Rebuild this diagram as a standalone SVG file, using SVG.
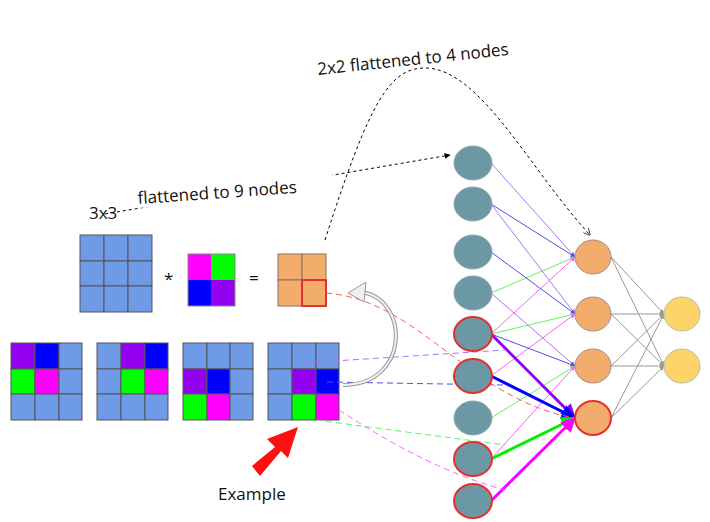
<svg xmlns="http://www.w3.org/2000/svg" width="710" height="522" viewBox="0 0 710 522">
<defs>
<style>
.b{fill:#6f9be6;stroke:#555;stroke-width:1}
.t{font-family:"Open Sans","Liberation Sans",Arial,sans-serif;font-size:17px;fill:#111}
.in{fill:#6b98a4;stroke:#8aa;stroke-width:1}
.inr{fill:#6b98a4;stroke:#e53030;stroke-width:2}
.hd{fill:#f2ac6b;stroke:#a88;stroke-width:1}
.ou{fill:#fcd468;stroke:#bba;stroke-width:1}
</style>
<marker id="a" viewBox="0 0 10 10" refX="9" refY="5" markerWidth="5" markerHeight="5" orient="auto"><path d="M0,0L10,5L0,10z" fill="context-stroke"/></marker>
<marker id="ab" viewBox="0 0 10 10" refX="9" refY="5" markerWidth="6" markerHeight="6" orient="auto"><path d="M0,0L10,5L0,10z" fill="#000"/></marker>
<marker id="ao" viewBox="0 0 10 10" refX="9" refY="5" markerWidth="7" markerHeight="7" orient="auto"><path d="M0,0L10,5L0,10" fill="none" stroke="#000"/></marker>
</defs>
<rect width="710" height="522" fill="#fff"/>
<g id="grid3x3">
<rect class="b" x="80" y="235" width="24" height="26"/><rect class="b" x="104" y="235" width="24" height="26"/><rect class="b" x="128" y="235" width="24" height="26"/>
<rect class="b" x="80" y="261" width="24" height="25"/><rect class="b" x="104" y="261" width="24" height="25"/><rect class="b" x="128" y="261" width="24" height="25"/>
<rect class="b" x="80" y="286" width="24" height="26"/><rect class="b" x="104" y="286" width="24" height="26"/><rect class="b" x="128" y="286" width="24" height="26"/>
</g>
<text class="t" x="164" y="285" font-size="14">*</text>
<g id="kernel">
<rect x="188" y="254" width="23" height="26" fill="#ff00ff"/><rect x="211" y="254" width="24" height="26" fill="#00ff00"/>
<rect x="188" y="280" width="23" height="26" fill="#0000ff"/><rect x="211" y="280" width="24" height="26" fill="#9400f0"/>
<rect x="188" y="254" width="47" height="52" fill="none" stroke="#888"/>
</g>
<text class="t" x="249" y="284" font-size="14">=</text>
<g id="result">
<rect x="278" y="254" width="24" height="26" fill="#f2ac6b" stroke="#8a7060"/><rect x="302" y="254" width="24" height="26" fill="#f2ac6b" stroke="#8a7060"/>
<rect x="278" y="280" width="24" height="26" fill="#f2ac6b" stroke="#8a7060"/><rect x="302" y="280" width="24" height="26" fill="#f2ac6b" stroke="#e53030" stroke-width="2"/>
</g>
<g id="examples">
<g id="ex1" transform="translate(11,343)">
<rect class="b" x="0" y="0" width="24" height="26" style="fill:#9400f0"/><rect class="b" x="24" y="0" width="24" height="26" style="fill:#0000ff"/><rect class="b" x="48" y="0" width="23" height="26"/>
<rect class="b" x="0" y="26" width="24" height="25" style="fill:#00ff00"/><rect class="b" x="24" y="26" width="24" height="25" style="fill:#ff00ff"/><rect class="b" x="48" y="26" width="23" height="25"/>
<rect class="b" x="0" y="51" width="24" height="26"/><rect class="b" x="24" y="51" width="24" height="26"/><rect class="b" x="48" y="51" width="23" height="26"/>
</g>
<g id="ex2" transform="translate(97,343)">
<rect class="b" x="0" y="0" width="24" height="26"/><rect class="b" x="24" y="0" width="24" height="26" style="fill:#9400f0"/><rect class="b" x="48" y="0" width="23" height="26" style="fill:#0000ff"/>
<rect class="b" x="0" y="26" width="24" height="25"/><rect class="b" x="24" y="26" width="24" height="25" style="fill:#00ff00"/><rect class="b" x="48" y="26" width="23" height="25" style="fill:#ff00ff"/>
<rect class="b" x="0" y="51" width="24" height="26"/><rect class="b" x="24" y="51" width="24" height="26"/><rect class="b" x="48" y="51" width="23" height="26"/>
</g>
<g id="ex3" transform="translate(183,343)">
<rect class="b" x="0" y="0" width="24" height="26"/><rect class="b" x="24" y="0" width="23" height="26"/><rect class="b" x="47" y="0" width="23" height="26"/>
<rect class="b" x="0" y="26" width="24" height="25" style="fill:#9400f0"/><rect class="b" x="24" y="26" width="23" height="25" style="fill:#0000ff"/><rect class="b" x="47" y="26" width="23" height="25"/>
<rect class="b" x="0" y="51" width="24" height="26" style="fill:#00ff00"/><rect class="b" x="24" y="51" width="23" height="26" style="fill:#ff00ff"/><rect class="b" x="47" y="51" width="23" height="26"/>
</g>
<g id="ex4" transform="translate(268,343)">
<rect class="b" x="0" y="0" width="24" height="26"/><rect class="b" x="24" y="0" width="24" height="26"/><rect class="b" x="48" y="0" width="23" height="26"/>
<rect class="b" x="0" y="26" width="24" height="25"/><rect class="b" x="24" y="26" width="24" height="25" style="fill:#9400f0"/><rect class="b" x="48" y="26" width="23" height="25" style="fill:#0000ff"/>
<rect class="b" x="0" y="51" width="24" height="26"/><rect class="b" x="24" y="51" width="24" height="26" style="fill:#00ff00"/><rect class="b" x="48" y="51" width="23" height="26" style="fill:#ff00ff"/>
</g>
</g>
<g id="connectors" fill="none">
<g stroke-width="1" marker-end="url(#a)">
<path d="M491,163L575,257" stroke="#b070ff"/>
<path d="M491,204L575,257" stroke="#5050e0"/>
<path d="M491,293L575,257" stroke="#60f060"/>
<path d="M491,334L575,257" stroke="#ff60ff"/>
<path d="M491,204L575,314" stroke="#b070ff"/>
<path d="M491,252L575,314" stroke="#5050e0"/>
<path d="M491,334L575,314" stroke="#60f060"/>
<path d="M491,376L575,314" stroke="#ff60ff"/>
<path d="M491,293L575,366" stroke="#b070ff"/>
<path d="M491,334L575,366" stroke="#5050e0"/>
<path d="M491,418L575,366" stroke="#60f060"/>
<path d="M491,459L575,366" stroke="#ff60ff"/>
</g>
<g stroke-width="3" marker-end="url(#a)">
<path d="M491,334L575,418" stroke="#9400f0"/>
<path d="M491,376L575,418" stroke="#0000ff"/>
<path d="M491,459L575,418" stroke="#00ee00"/>
<path d="M491,501L575,418" stroke="#ff00ff"/>
</g>
<g stroke="#999" stroke-width="1" marker-end="url(#a)">
<path d="M611,257L664,314"/><path d="M611,257L664,366"/>
<path d="M611,314L664,314"/><path d="M611,314L664,366"/>
<path d="M611,366L664,314"/><path d="M611,366L664,366"/>
<path d="M611,418L664,314"/><path d="M611,418L664,366"/>
</g>
<g stroke-dasharray="6,4" stroke-width="1">
<path d="M303,363L505,350" stroke="#b070ff"/>
<path d="M327,382L505,385" stroke="#5050e0"/>
<path d="M316,420L505,445" stroke="#60f060"/>
<path d="M339,410Q430,470 505,490" stroke="#ff60ff"/>
<path d="M326,293C420,300 470,400 575,418" stroke="#f06060"/>
</g>
<path d="M343,385C410,385 410,300 362,292" stroke="#999" stroke-width="4"/>
<path d="M343,385C410,385 410,300 362,292" stroke="#f0f0f0" stroke-width="2"/>
<path d="M348,293L366,282L364,302z" fill="#f0f0f0" stroke="#999"/>
<path d="M105,214L450,155" stroke="#000" stroke-dasharray="3,3" marker-end="url(#ab)"/>
<path d="M325,240C370,100 390,68 425,68C480,68 530,170 590,235" stroke="#000" stroke-dasharray="3,3" marker-end="url(#ao)"/>
<path d="M252,466L275,447L267,439L298,427L288,458L281,451L260,476z" fill="#ff1010" stroke="none"/>
</g>
<g id="inputs">
<ellipse class="in" cx="473" cy="163" rx="19" ry="17"/>
<ellipse class="in" cx="473" cy="204" rx="19" ry="17"/>
<ellipse class="in" cx="473" cy="252" rx="19" ry="17"/>
<ellipse class="in" cx="473" cy="293" rx="19" ry="17"/>
<ellipse class="inr" cx="473" cy="334" rx="19" ry="17"/>
<ellipse class="inr" cx="473" cy="376" rx="19" ry="17"/>
<ellipse class="in" cx="473" cy="418" rx="19" ry="17"/>
<ellipse class="inr" cx="473" cy="459" rx="19" ry="17"/>
<ellipse class="inr" cx="473" cy="501" rx="19" ry="17"/>
</g>
<g id="hidden">
<ellipse class="hd" cx="593" cy="257" rx="18" ry="17"/>
<ellipse class="hd" cx="593" cy="314" rx="18" ry="17"/>
<ellipse class="hd" cx="593" cy="366" rx="18" ry="17"/>
<ellipse class="hd" cx="593" cy="418" rx="18" ry="17" style="stroke:#e53030;stroke-width:2"/>
</g>
<g id="outputs">
<ellipse class="ou" cx="682" cy="314" rx="18" ry="17"/>
<ellipse class="ou" cx="682" cy="366" rx="18" ry="17"/>
</g>
<rect x="134" y="186" width="200" height="22" fill="#fff" transform="rotate(-4 138 204)"/>
<text class="t" x="89" y="219">3x3</text>
<text class="t" x="138" y="204" transform="rotate(-4 138 204)">flattened to 9 nodes</text>
<text class="t" x="318" y="75" transform="rotate(-6 318 75)">2x2 flattened to 4 nodes</text>
<text class="t" x="218" y="500">Example</text>
</svg>
